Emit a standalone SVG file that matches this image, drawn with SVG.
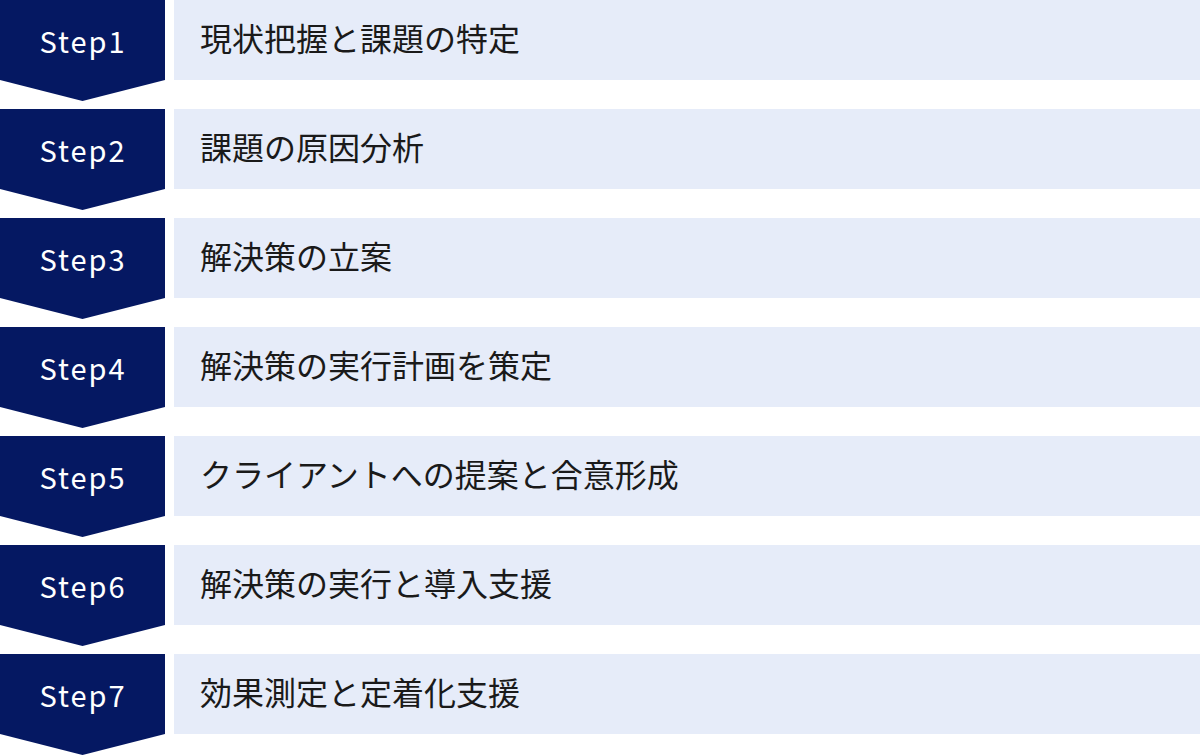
<svg xmlns="http://www.w3.org/2000/svg" width="1200" height="756" viewBox="0 0 1200 756">
<style>
.chev{fill:#051862}
.box{fill:#e6ecf9}
.st{font-family:"Noto Sans CJK JP",sans-serif;font-size:29px;fill:#ffffff;letter-spacing:2px;text-anchor:middle}
.lb{font-family:"Noto Sans CJK JP",sans-serif;font-size:32px;fill:#1a1a1a}
</style>
<defs>
<path id="chevron" d="M0 0H165V80L82.5 101L0 80Z"/>
</defs>
<g id="connectors"></g>
<g id="step1" transform="translate(0,0)"><use href="#chevron" class="chev"/><rect class="box" x="174" y="0" width="1026" height="80"/><text class="st" x="83" y="53">Step1</text><text class="lb" x="200" y="50.5">現状把握と課題の特定</text></g>
<g id="step2" transform="translate(0,109)"><use href="#chevron" class="chev"/><rect class="box" x="174" y="0" width="1026" height="80"/><text class="st" x="83" y="53">Step2</text><text class="lb" x="200" y="50.5">課題の原因分析</text></g>
<g id="step3" transform="translate(0,218)"><use href="#chevron" class="chev"/><rect class="box" x="174" y="0" width="1026" height="80"/><text class="st" x="83" y="53">Step3</text><text class="lb" x="200" y="50.5">解決策の立案</text></g>
<g id="step4" transform="translate(0,327)"><use href="#chevron" class="chev"/><rect class="box" x="174" y="0" width="1026" height="80"/><text class="st" x="83" y="53">Step4</text><text class="lb" x="200" y="50.5">解決策の実行計画を策定</text></g>
<g id="step5" transform="translate(0,436)"><use href="#chevron" class="chev"/><rect class="box" x="174" y="0" width="1026" height="80"/><text class="st" x="83" y="53">Step5</text><text class="lb" x="200" y="50.5">クライアントへの提案と合意形成</text></g>
<g id="step6" transform="translate(0,545)"><use href="#chevron" class="chev"/><rect class="box" x="174" y="0" width="1026" height="80"/><text class="st" x="83" y="53">Step6</text><text class="lb" x="200" y="50.5">解決策の実行と導入支援</text></g>
<g id="step7" transform="translate(0,654)"><use href="#chevron" class="chev"/><rect class="box" x="174" y="0" width="1026" height="80"/><text class="st" x="83" y="53">Step7</text><text class="lb" x="200" y="50.5">効果測定と定着化支援</text></g>
</svg>
